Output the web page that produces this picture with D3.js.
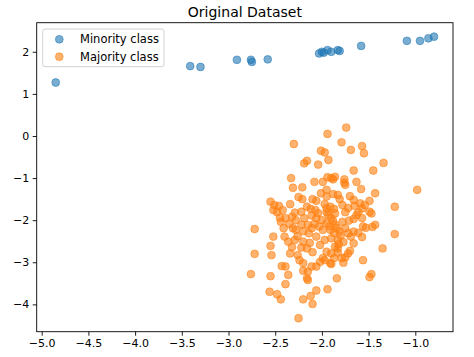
<!DOCTYPE html>
<html><head><meta charset="utf-8">
<script src="https://cdn.jsdelivr.net/npm/d3@7/dist/d3.min.js"></script>
<style>body{margin:0;background:#fff}svg{display:block}</style>
</head><body><svg id="c" width="474" height="357"></svg>
<script>
const title = "Original Dataset";
const seriesNames = ["Minority class", "Majority class"];
const seriesColors = ["#1f77b4", "#ff7f0e"];
const xTicks = [-5.0, -4.5, -4.0, -3.5, -3.0, -2.5, -2.0, -1.5, -1.0];
const yTicks = [-4, -3, -2, -1, 0, 1, 2];

const minorityX = [-4.85,-3.41,-3.30,-2.91,-2.76,-2.75,-2.58,-2.03,-2.00,-1.98,-1.94,-1.90,-1.83,-1.81,-1.58,-1.09,-0.95,-0.86,-0.80];
const minorityY = [1.27,1.66,1.64,1.81,1.81,1.76,1.82,1.96,2.00,1.98,2.04,2.00,2.04,2.02,2.14,2.26,2.26,2.32,2.36];

const majorityX = [-1.74,-1.94,-2.30,-1.79,-1.57,-1.69,-1.55,-2.01,-1.97,-1.93,-2.16,-2.19,-2.04,-1.34,-1.66,-1.45,-2.33,-2.08,-1.99,-1.94,
-1.90,-1.86,-1.88,-1.76,-1.76,-1.63,-2.31,-2.21,-1.58,-0.98,-1.75,-1.43,-2.01,-1.88,-1.95,-1.83,-1.81,-1.66,-1.59,-1.49,
-1.78,-1.65,-1.57,-1.87,-1.86,-1.22,-1.49,-1.47,-2.55,-2.51,-2.52,-2.46,-2.34,-2.21,-2.10,-1.95,-2.16,-2.12,-2.07,-2.22,
-2.29,-1.97,-1.95,-1.91,-2.45,-2.39,-2.32,-2.28,-2.19,-2.11,-2.06,-2.00,-1.63,-1.66,-1.71,-1.78,-1.56,-1.53,-1.43,-1.46,
-1.84,-1.81,-1.80,-1.66,-1.69,-1.22,-2.41,-2.31,-2.22,-2.20,-2.14,-2.03,-1.99,-1.91,-1.95,-2.72,-1.86,-2.06,-1.72,-2.52,
-2.40,-2.36,-2.29,-2.20,-2.22,-2.16,-2.55,-1.77,-1.66,-1.86,-1.83,-1.70,-1.35,-1.90,-2.72,-2.54,-2.34,-1.95,-1.79,-1.99,
-2.26,-1.56,-2.39,-2.43,-2.24,-2.20,-2.20,-2.15,-2.11,-2.06,-2.02,-1.97,-1.91,-2.15,-2.16,-2.76,-2.55,-2.36,-2.39,-2.56,
-2.48,-2.44,-2.20,-2.12,-2.10,-2.06,-1.94,-1.84,-1.47,-1.49,-2.25,-1.90,-1.83,-1.75,-1.72,-1.77,-1.87,-1.90,
-1.93,-1.90,-1.88,-1.95,-1.83,-1.82,-1.87,-1.92,-2.04,-2.08,-2.28,-2.26,-2.44,-2.48,-2.15,-2.11,-1.75,-1.72,-1.61,-1.57,
-1.54,-1.70,-2.06,-2.25,-2.42,-2.35,-2.32,-2.13,-2.10,-2.02,-1.97,-1.75,-1.61,-1.57];
const majorityY = [0.20,0.05,-0.19,-0.15,-0.24,-0.33,-0.41,-0.35,-0.39,-0.57,-0.59,-0.65,-0.68,-0.64,-0.82,-0.82,-1.00,-1.09,-1.09,-0.98,
-1.00,-0.97,-1.03,-1.03,-1.11,-1.09,-1.23,-1.22,-1.26,-1.28,-1.16,-1.36,-1.36,-1.38,-1.28,-1.40,-1.50,-1.52,-1.60,-1.54,
-1.64,-1.66,-1.72,-1.73,-1.84,-1.68,-1.80,-1.84,-1.56,-1.64,-1.76,-1.66,-1.62,-1.50,-1.50,-1.44,-1.68,-1.73,-1.76,-1.80,
-1.82,-1.62,-1.72,-1.68,-1.94,-1.95,-1.92,-2.00,-1.95,-1.89,-1.95,-2.00,-1.88,-1.97,-2.01,-2.04,-2.15,-2.18,-2.11,-2.16,
-2.19,-2.27,-2.37,-2.27,-2.39,-2.33,-2.19,-2.19,-2.11,-2.26,-2.31,-2.15,-2.23,-2.23,-2.07,-2.21,-2.11,-2.39,-2.31,-2.39,
-2.39,-2.51,-2.47,-2.51,-2.65,-2.67,-2.61,-2.52,-2.55,-2.63,-2.67,-2.73,-2.67,-2.43,-2.80,-2.83,-2.79,-2.75,-2.90,-2.90,
-2.83,-2.95,-3.10,-3.09,-2.95,-3.02,-3.20,-3.22,-3.10,-3.10,-2.99,-2.95,-3.02,-3.42,-3.38,-3.28,-3.33,-3.30,-3.52,-3.70,
-3.76,-3.88,-3.88,-3.80,-3.99,-3.67,-3.64,-3.38,-3.28,-3.35,-4.33,-2.79,-2.77,-2.88,-2.79,-3.01,-2.90,-3.04,
-1.88,-1.95,-2.02,-1.81,-2.47,-2.57,-2.30,-2.14,-1.83,-2.09,-2.23,-2.38,-2.04,-1.81,-2.11,-2.19,-1.81,-1.71,-1.81,-1.95,
-1.64,-1.43,-1.54,-1.45,-1.76,-2.09,-2.64,-2.54,-2.76,-2.59,-2.47,-2.19,-2.30,-2.40];

const W = 474, H = 357;
const frame = {left: 36.7, top: 22.7, right: 453, bottom: 331.7};
const svg = d3.select("#c");
const font = "DejaVu Sans, sans-serif";
const minus = s => s.replace("-", "\u2212");

const x = d3.scaleLinear().domain([-5.0535, -0.5965]).range([frame.left, frame.right]);
const y = d3.scaleLinear().domain([-4.649, 2.691]).range([frame.bottom, frame.top]);

const R = 3.9;
const series = [
  {name: seriesNames[0], color: seriesColors[0], xs: minorityX, ys: minorityY},
  {name: seriesNames[1], color: seriesColors[1], xs: majorityX, ys: majorityY}
];
series.forEach(s => {
  svg.append("g").selectAll("circle").data(d3.range(s.xs.length)).join("circle")
    .attr("cx", i => x(s.xs[i])).attr("cy", i => y(s.ys[i])).attr("r", R)
    .attr("fill", s.color).attr("fill-opacity", 0.6)
    .attr("stroke", s.color).attr("stroke-opacity", 0.6).attr("stroke-width", 0.9);
});

const xAxis = svg.append("g").attr("transform", `translate(0,${frame.bottom})`)
  .call(d3.axisBottom(x).tickValues(xTicks).tickFormat(d => minus(d3.format(".1f")(d))).tickSize(4).tickPadding(3.5).tickSizeOuter(0));
const yAxis = svg.append("g").attr("transform", `translate(${frame.left},0)`)
  .call(d3.axisLeft(y).tickValues(yTicks).tickFormat(d => minus(d3.format("d")(d))).tickSize(4).tickPadding(3.5).tickSizeOuter(0));
[xAxis, yAxis].forEach(a => {
  a.select(".domain").remove();
  a.selectAll("line").attr("stroke", "#000").attr("stroke-width", 0.9);
  a.selectAll("text").attr("fill", "#000").style("font-family", font).style("font-size", "11px");
});

svg.append("rect").attr("x", frame.left).attr("y", frame.top)
  .attr("width", frame.right - frame.left).attr("height", frame.bottom - frame.top)
  .attr("fill", "none").attr("stroke", "#000").attr("stroke-width", 0.9);

svg.append("text").attr("x", (frame.left + frame.right) / 2).attr("y", 16.5)
  .attr("text-anchor", "middle").style("font-family", font).style("font-size", "14px").attr("fill", "#000").text(title);

const lg = svg.append("g");
lg.append("rect").attr("x", 42.7).attr("y", 29).attr("width", 121.3).attr("height", 37.7).attr("rx", 2.5)
  .attr("fill", "#fff").attr("fill-opacity", 0.8).attr("stroke", "#cccccc").attr("stroke-width", 0.9);
series.forEach((s, i) => {
  const cy = 39.3 + i * 17.4;
  lg.append("circle").attr("cx", 59.3).attr("cy", cy).attr("r", R)
    .attr("fill", s.color).attr("fill-opacity", 0.6).attr("stroke", s.color).attr("stroke-opacity", 0.6).attr("stroke-width", 0.9);
  lg.append("text").attr("x", 80).attr("y", cy + 4).style("font-family", font).style("font-size", "11.5px").attr("fill", "#000").text(s.name);
});
</script></body></html>
